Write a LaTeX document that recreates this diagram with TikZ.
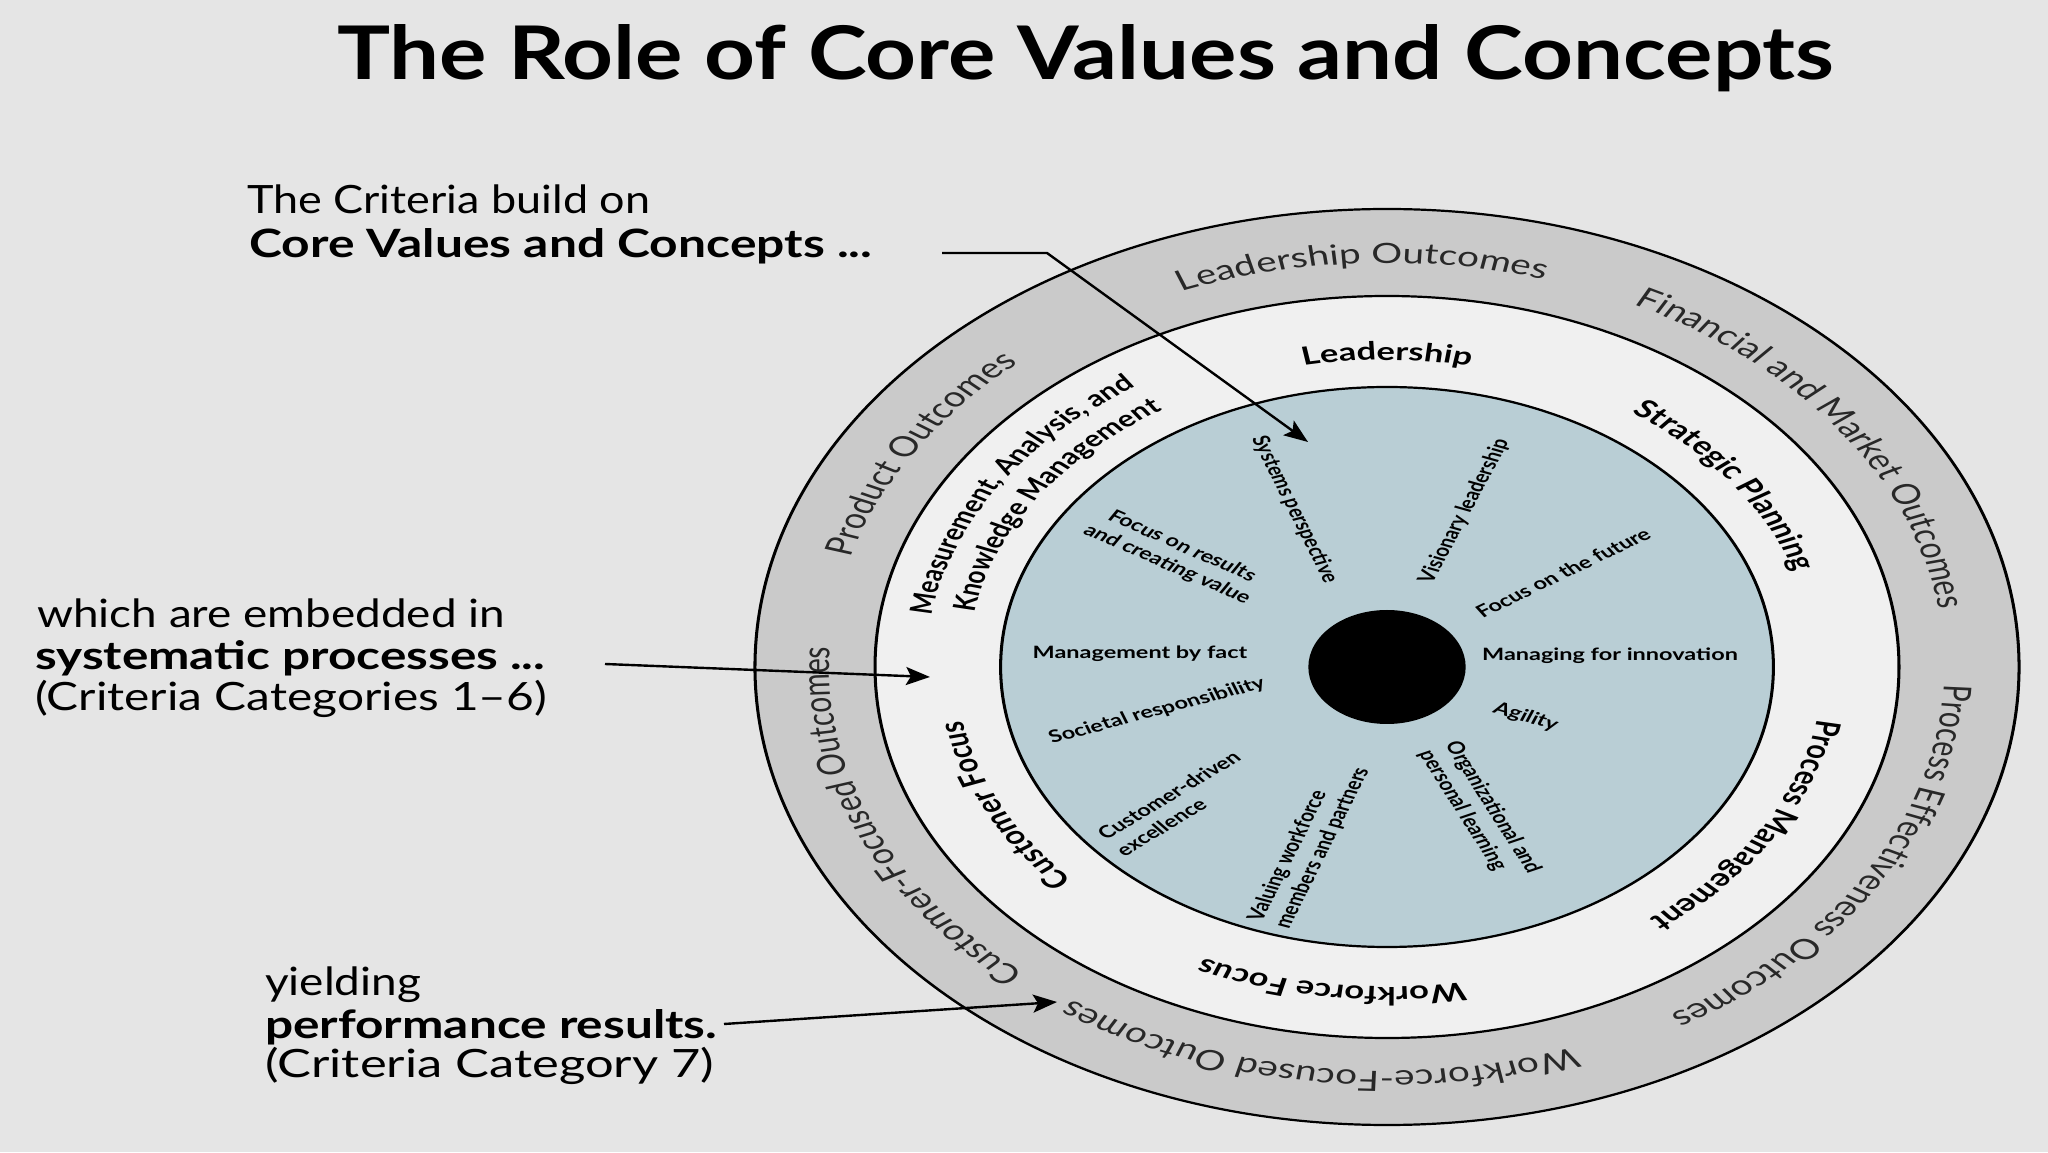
\documentclass[tikz,border=0pt]{standalone}
\usepackage{fontspec}
\setmainfont{Lato}
\usepackage{graphicx}
\usetikzlibrary{decorations.text, arrows.meta}
\definecolor{bgc}{RGB}{229,229,229}
\definecolor{bandc}{RGB}{202,202,202}
\definecolor{ringc}{RGB}{240,240,240}
\definecolor{bluec}{RGB}{185,206,213}
\definecolor{bandtxt}{RGB}{40,40,40}
\newcommand{\fitw}[2]{\resizebox{#1pt}{\height}{#2}}
\newcommand{\bandf}{\fontsize{28}{28}\selectfont}
\newcommand{\ringf}{\fontsize{25}{25}\selectfont\bfseries}
\newcommand{\measf}{\fontsize{22.5}{22.5}\selectfont\bfseries}
% radius, centre angle, font, colour, text  (clockwise, tops outward)
\newcommand{\arctext}[5]{%
  \path[decorate, decoration={text along path, text align=center, text color=#4, text={|#3|#5}}]
    (#2+90:#1) arc[start angle=#2+90, end angle=#2-90, radius=#1];}
\begin{document}
\begin{tikzpicture}[x=1pt,y=1pt,
  lefttxt/.style={anchor=base west, inner sep=0pt, font=\fontsize{39}{39}\selectfont},
  pointer/.style={line width=2.4pt, -{Stealth[length=24pt,width=18pt,inset=5pt]}},
  corev/.style={inner sep=0pt, font=\fontsize{17}{21}\selectfont\bfseries, align=center},
  ringline/.style={line width=2.2pt, draw=black},
]
\useasboundingbox (0,0) rectangle (2048,1152);
\fill[bgc] (0,0) rectangle (2048,1152);

% title
\node[anchor=base west, inner sep=0pt] (title) at (337,1072)
  {\fitw{1497}{\fontsize{74}{74}\selectfont\bfseries The Role of Core Values and Concepts}};

% left texts
\node[lefttxt] (t1a) at (247,938) {\fitw{403}{The Criteria build on}};
\node[lefttxt] (t1b) at (249,894) {\fitw{623}{\bfseries Core Values and Concepts ...}};
\node[lefttxt] (t2a) at (37,524) {\fitw{468}{which are embedded in}};
\node[lefttxt] (t2b) at (35,482) {\fitw{510}{\bfseries systematic processes ...}};
\node[lefttxt] (t2c) at (35,441) {\fitw{512}{(Criteria Categories 1–6)}};
\node[lefttxt] (t3a) at (265,157) {\fitw{156}{yielding}};
\node[lefttxt] (t3b) at (265,114) {\fitw{452}{\bfseries performance results.}};
\node[lefttxt] (t3c) at (265,75) {\fitw{449}{(Criteria Category 7)}};

% diagram (circular, stretched horizontally like the slide)
\begin{scope}[transform canvas={shift={(1387,485)},xscale=1.38}]
  \filldraw[ringline, fill=bandc] (0,0) circle (458);
  \filldraw[ringline, fill=ringc] (0,0) circle (371);
  \filldraw[ringline, fill=bluec] (0,0) circle (280);
  \fill[black] (0,0) circle (57);

  % results ring
  \arctext{404}{92.6}{\bandf}{bandtxt}{Leadership Outcomes}
  \arctext{404}{36}{\bandf}{bandtxt}{Financial and Market Outcomes}
  \arctext{404}{-31}{\bandf}{bandtxt}{Process Effectiveness Outcomes}
  \arctext{404}{-97.4}{\bandf}{bandtxt}{Workforce-Focused Outcomes}
  \arctext{404}{203.3}{\bandf}{bandtxt}{Customer-Focused Outcomes}
  \arctext{404}{147.8}{\bandf}{bandtxt}{Product Outcomes}

  % process ring
  \arctext{307}{90}{\ringf}{black}{Leadership}
  \arctext{310}{36.5}{\ringf}{black}{Strategic Planning}
  \arctext{316}{-31.3}{\ringf}{black}{Process Management}
  \arctext{320}{-97.2}{\ringf}{black}{Workforce Focus}
  \arctext{312}{206.5}{\ringf}{black}{Customer Focus}
  \arctext{334}{147}{\measf}{black}{Measurement, Analysis, and}
  \arctext{304}{146}{\measf}{black}{Knowledge Management}

  % core values
  \node[corev, rotate=-70] (v1) at (-67,157.5) {Systems perspective};
  \node[corev, rotate=68.7] (v2) at (56,156) {Visionary leadership};
  \node[corev, rotate=33.4] (v3) at (127.5,94.5) {Focus on the future};
  \node[corev] (v4) at (161.6,11) {Managing for innovation};
  \node[corev, rotate=-21.4] (v5) at (100.5,-50) {Agility};
  \node[corev, rotate=-65, align=left] (v6) at (67,-145) {Organizational and\\personal learning};
  \node[corev, rotate=70, align=left] (v7) at (-56.5,-177.5) {Valuing workforce\\members and partners};
  \node[corev, rotate=39.5, align=left] (v8) at (-151.5,-136.5) {Customer-driven\\excellence};
  \node[corev, rotate=20] (v9) at (-166.7,-44) {Societal responsibility};
  \node[corev] (v10) at (-179,13) {Management by fact};
  \node[corev, rotate=-31] (v11) at (-154,111.5) {Focus on results\\and creating value};
\end{scope}

% pointers
\coordinate (a1s) at (942,899);
\coordinate (a1b) at (1047,899);
\coordinate (a1e) at (1308,710);
\coordinate (a2s) at (605,488);
\coordinate (a2e) at (930,475);
\coordinate (a3s) at (724,128);
\coordinate (a3e) at (1057,150);
\draw[pointer] (a1s) -- (a1b) -- (a1e);
\draw[pointer] (a2s) -- (a2e);
\draw[pointer] (a3s) -- (a3e);
\end{tikzpicture}
\end{document}
